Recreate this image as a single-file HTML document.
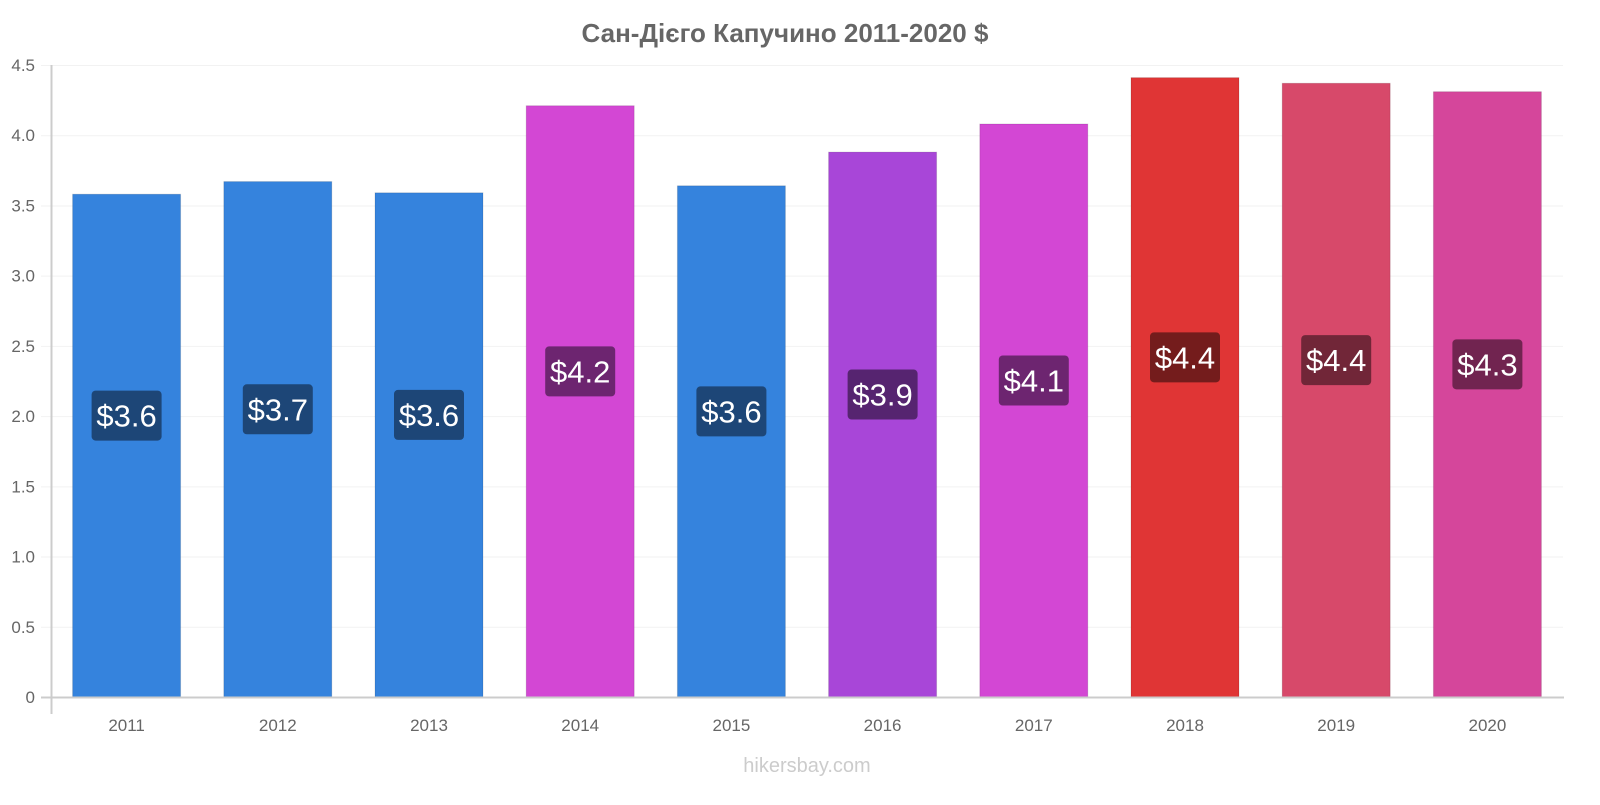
<!DOCTYPE html>
<html><head><meta charset="utf-8"><style>
body{margin:0;background:#fff;font-family:"Liberation Sans",sans-serif;}
svg text{font-family:"Liberation Sans",sans-serif;}
</style></head><body>
<svg id="chart" width="1600" height="800" xmlns="http://www.w3.org/2000/svg">
<text x="785" y="42" text-anchor="middle" font-size="26" font-weight="bold" fill="#666">Сан-Дієго Капучино 2011-2020 $</text>
<g id="grid"></g><g id="bars"></g>
<line x1="51.5" y1="65" x2="51.5" y2="714" stroke="#ccc" stroke-width="2"/>
<line x1="41" y1="697.5" x2="1564" y2="697.5" stroke="#ccc" stroke-width="2"/>
<text x="807" y="772" text-anchor="middle" font-size="20" fill="#ccc">hikersbay.com</text>
</svg>
<script>
const categories=["2011","2012","2013","2014","2015","2016","2017","2018","2019","2020"];
const values=[3.58,3.67,3.59,4.21,3.64,3.88,4.08,4.41,4.37,4.31];
const labels=["$3.6","$3.7","$3.6","$4.2","$3.6","$3.9","$4.1","$4.4","$4.4","$4.3"];
const colors=["#3583dd","#3583dd","#3583dd","#d347d4","#3583dd","#a846d8","#d347d4","#e03535","#d7496a","#d5469b"];
const labelBg=["#1d4677","#1d4677","#1d4677","#6d2570","#1d4677","#562470","#6d2570","#741c1c","#712638","#712450"];
const yTicks=[0,0.5,1,1.5,2,2.5,3,3.5,4,4.5];
const yTickLabels=["0","0.5","1.0","1.5","2.0","2.5","3.0","3.5","4.0","4.5"];
const NS="http://www.w3.org/2000/svg";
const x0=51,x1=1563,yb=697,yt=65,ymax=4.5;
const band=(x1-x0)/categories.length;
const y=v=>yb-(v/ymax)*(yb-yt);
const xc=i=>x0+band*(i+0.5);
const grid=document.getElementById('grid'),bars=document.getElementById('bars');
function mk(t,a,p){const e=document.createElementNS(NS,t);for(const k in a)e.setAttribute(k,a[k]);p.appendChild(e);return e;}
yTicks.forEach((t,i)=>{
 const l=mk('line',{x1:41,x2:1563,y1:y(t)+0.5,y2:y(t)+0.5,stroke:i?'#f2f2f2':'none'},grid);
 
 
 const tx=mk('text',{x:35,y:y(t)+6,'text-anchor':'end','font-size':17,fill:'#666'},grid);
 tx.textContent=yTickLabels[i];
 
 
});
categories.forEach((c,i)=>{
 const bw=108,cx=xc(i),top=y(values[i]);
 const r=mk('rect',{x:cx-bw/2,y:top,width:bw,height:yb-top,fill:colors[i],stroke:'rgba(0,0,0,0.12)'},bars);
 
 
 const ly=(top+yb)/2-30;
 const lw=labels[i].length*16+6;
 const b=mk('rect',{x:cx-lw/2,y:ly-25,width:lw,height:50,rx:4,fill:labelBg[i]},bars);
 
 
 const t=mk('text',{x:cx,y:ly+11,'text-anchor':'middle','font-size':31,fill:'#fff'},bars);
 t.textContent=labels[i];
 
 
 const xt=mk('text',{x:cx,y:731,'text-anchor':'middle','font-size':17,fill:'#666'},bars);
 xt.textContent=c;
 
 
});
</script>
</body></html>
